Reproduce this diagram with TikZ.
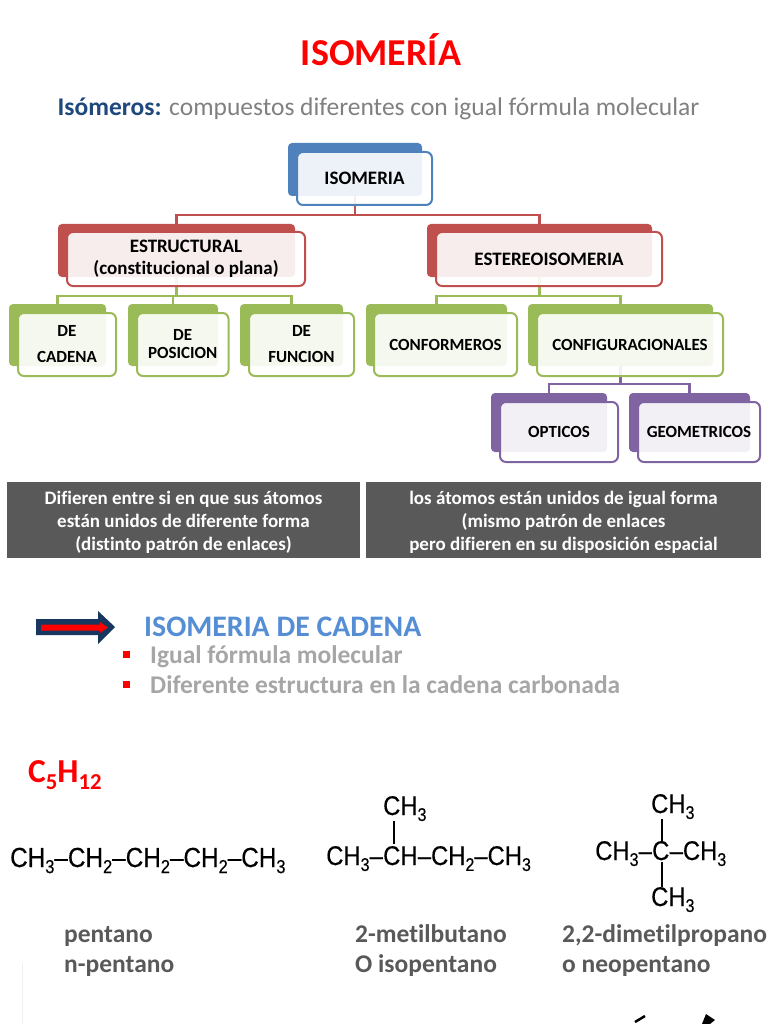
\documentclass[tikz,border=0pt]{standalone}
\usepackage{fontspec}
\setmainfont{Carlito}[Ligatures=NoCommon]
\newfontfamily\chemfont[FakeStretch=.88,FakeBold=.3]{Liberation Sans}
\usepackage{tikz}
\usetikzlibrary{positioning}
\definecolor{isoblue}{HTML}{4F81BD}
\definecolor{isored}{HTML}{C0504D}
\definecolor{isogreen}{HTML}{9BBB59}
\definecolor{isopurple}{HTML}{8064A2}
\definecolor{isonavy}{HTML}{1F497D}
\definecolor{isosky}{HTML}{558ED5}
\definecolor{barcol}{HTML}{595959}
\newcommand{\lowr}[1]{\raisebox{-.22em}{\scalebox{.68}{#1}}}
\tikzset{cardback/.style n args={3}{fill=#1, rounded corners=4pt, inner sep=0pt,
                                    minimum width=#2, minimum height=#3}}
\tikzset{cardfront/.style n args={3}{draw=#1, line width=2pt, fill=white, fill opacity=.9,
                                     text opacity=1, rounded corners=6pt, inner sep=0pt, align=center,
                                     font=\bfseries\fontsize{17}{19}\selectfont,
                                     minimum width=#2, minimum height=#3}}
\tikzset{bigcard/.style={font=\bfseries\fontsize{19}{20}\selectfont}}
\tikzset{bus/.style={draw=#1, line width=2.3pt}}
\tikzset{bar/.style={fill=barcol, text=white, inner sep=0pt, align=center,
                     font=\bfseries\fontsize{19}{23}\selectfont, minimum height=76pt}}
\tikzset{chem/.style={inner sep=0pt, font=\chemfont\fontsize{27}{27}\selectfont}}
\tikzset{bond/.style={line width=1.3pt}}
\tikzset{bullet/.style={fill=red, inner sep=0pt, minimum size=7pt}}
\tikzset{graytext/.style={anchor=west, inner sep=0pt, text=black!35, font=\bfseries\fontsize{25.5}{28}\selectfont}}
\tikzset{nametext/.style={anchor=north west, inner sep=0pt, align=left, text=barcol,
                          font=\bfseries\fontsize{25.5}{30}\selectfont}}
\begin{document}
\begin{tikzpicture}[x=1pt,y=-1pt]
   \useasboundingbox (0,0) rectangle (768,1024);

   \node[inner sep=0pt,text=red,font=\bfseries\fontsize{38}{42}\selectfont] (title) at (381,50) {ISOMERÍA};
   \node[inner sep=0pt,font=\fontsize{25.5}{28}\selectfont,text=black!50] (subtitle) at (378.5,108.5)
      {\textcolor{isonavy}{\bfseries Isómeros:} compuestos diferentes con igual fórmula molecular};

   % back plates
   \node[cardback={isoblue}{134pt}{53pt}] (isoB) at (355,169.5) {};
   \node[cardback={isored}{237pt}{53pt}] (estrB) at (176.5,250.5) {};
   \node[cardback={isored}{225pt}{53pt}] (esteB) at (539.5,250.5) {};
   \node[cardback={isogreen}{97pt}{62pt}] (cadB) at (57.5,335) {};
   \node[cardback={isogreen}{90pt}{62pt}] (posB) at (173,335) {};
   \node[cardback={isogreen}{103pt}{62pt}] (funB) at (291.5,335) {};
   \node[cardback={isogreen}{141pt}{62pt}] (confoB) at (436.5,335) {};
   \node[cardback={isogreen}{185pt}{62pt}] (configB) at (620.5,335) {};
   \node[cardback={isopurple}{116pt}{59pt}] (optB) at (549,422.5) {};
   \node[cardback={isopurple}{121pt}{59pt}] (geoB) at (689.5,422.5) {};

   % tree lines
   \foreach \kid in {estrB,esteB}
      \draw[bus=isored] (isoB.south) -- ++(0,19) -| (\kid.north);
   \foreach \kid in {cadB,posB,funB}
      \draw[bus=isogreen] (estrB.south) -- ++(0,19) -| (\kid.north);
   \foreach \kid in {confoB,configB}
      \draw[bus=isogreen] (esteB.south) -- ++(0,19) -| (\kid.north);
   \foreach \kid in {optB,geoB}
      \draw[bus=isopurple] (configB.south) -- ++(0,18) -| (\kid.north);

   % front cards
   \node[cardfront={isoblue}{135pt}{53pt},bigcard] (iso) at (364.5,178.5) {ISOMERIA};
   \node[cardfront={isored}{238pt}{54pt},bigcard] (estr) at (186,259) {ESTRUCTURAL\\[2pt](constitucional o plana)};
   \node[cardfront={isored}{226pt}{54pt},bigcard] (este) at (549,259) {ESTEREOISOMERIA};
   \node[cardfront={isogreen}{98pt}{63pt}] (cad) at (67,344.5) {DE\\[7pt]CADENA};
   \node[cardfront={isogreen}{91.5pt}{63pt}] (pos) at (182.75,344.5) {DE\\[-1pt]POSICION};
   \node[cardfront={isogreen}{105pt}{63pt}] (fun) at (301.5,344.5) {DE\\[7pt]FUNCION};
   \node[cardfront={isogreen}{143pt}{63pt}] (confo) at (445.5,344.5) {CONFORMEROS};
   \node[cardfront={isogreen}{186pt}{63pt}] (config) at (630,344.5) {CONFIGURACIONALES};
   \node[cardfront={isopurple}{118pt}{60pt}] (opt) at (559,432) {OPTICOS};
   \node[cardfront={isopurple}{122pt}{60pt}] (geo) at (699,432) {GEOMETRICOS};

   \node[bar,minimum width=353pt,text depth=0pt] (barL) at (183.5,520)
      {\raisebox{-1pt}{Difieren entre si en que sus átomos}\\\raisebox{-1pt}{están unidos de diferente forma}\\\raisebox{-1pt}{(distinto patrón de enlaces)}};
   \node[bar,minimum width=395pt,text depth=0pt] (barR) at (563.5,520)
      {\raisebox{-1pt}{los átomos están unidos de igual forma}\\\raisebox{-1pt}{(mismo patrón de enlaces}\\\raisebox{-1pt}{pero difieren en su disposición espacial}};

   % block arrow
   \fill[isonavy!75!black] (36,619) -- (98,619) -- (98,611) -- (115,627) -- (98,644) -- (98,635) -- (36,635) -- cycle;
   \fill[red] (41,624.5) -- (100,624.5) -- (100,622) -- (108,627.5) -- (100,633) -- (100,630.5) -- (41,630.5) -- cycle;

   \node[anchor=west,inner sep=0pt,text=isosky,font=\bfseries\fontsize{29.8}{32}\selectfont] (head) at (144,627) {ISOMERIA DE CADENA};
   \node[bullet] (b1) at (126.5,654) {};
   \node[bullet] (b2) at (126.5,684) {};
   \node[graytext] (t1) at (150,656.5) {Igual fórmula molecular};
   \node[graytext] (t2) at (150,685) {Diferente estructura en la cadena carbonada};

   \node[anchor=west,inner sep=0pt,text=red,font=\bfseries\fontsize{33.5}{36}\selectfont] (formula) at (28,775) {C\lowr{5}H\lowr{12}};

   % pentano
   \node[chem,anchor=base west,font=\chemfont\fontsize{27.6}{27}\selectfont] (pent) at (10,867)
      {CH\lowr{3}–CH\lowr{2}–CH\lowr{2}–CH\lowr{2}–CH\lowr{3}};

   % metilbutano
   \node[chem,anchor=base west] (ch) at (383,865) {CH};
   \node[chem,base left=0pt of ch.base west] (chL) {CH\lowr{3}–};
   \node[chem,base right=0pt of ch.base east] (chR) {–CH\lowr{2}–CH\lowr{3}};
   \node[chem,anchor=base west] (chT) at (383,815) {CH\lowr{3}};
   \coordinate (chN) at (394,844);
   \draw[bond] (chN) -- (chN |- chT.south);

   % dimetilpropano
   \node[chem,anchor=base west] (cc) at (652,860) {C};
   \node[chem,base left=0pt of cc.base west] (ccL) {CH\lowr{3}–};
   \node[chem,base right=0pt of cc.base east] (ccR) {–CH\lowr{3}};
   \node[chem,anchor=base west] (ccT) at (651,813) {CH\lowr{3}};
   \node[chem,anchor=base west] (ccD) at (651,906) {CH\lowr{3}};
   \coordinate (ccN) at (662,842);
   \coordinate (ccS) at (662,862);
   \draw[bond] (ccN) -- (ccN |- ccT.south);
   \draw[bond] (ccS) -- (ccS |- ccD.north);

   \node[nametext] (n1) at (64,926.5) {pentano\\n-pentano};
   \node[nametext] (n2) at (355,924.5) {2-metilbutano\\O isopentano};
   \node[nametext] (n3) at (562,924.5) {2,2-dimetilpropano\\o neopentano};

   % cut off at the page edge
   \draw[black!6,line width=1pt] (22,963) -- (22,1024);
   \draw[black,line width=2.5pt] (635,1022) -- (645,1016);
   \fill[black] (706,1014) -- (715,1020) -- (710,1024) -- (702,1024) -- cycle;
\end{tikzpicture}
\end{document}
